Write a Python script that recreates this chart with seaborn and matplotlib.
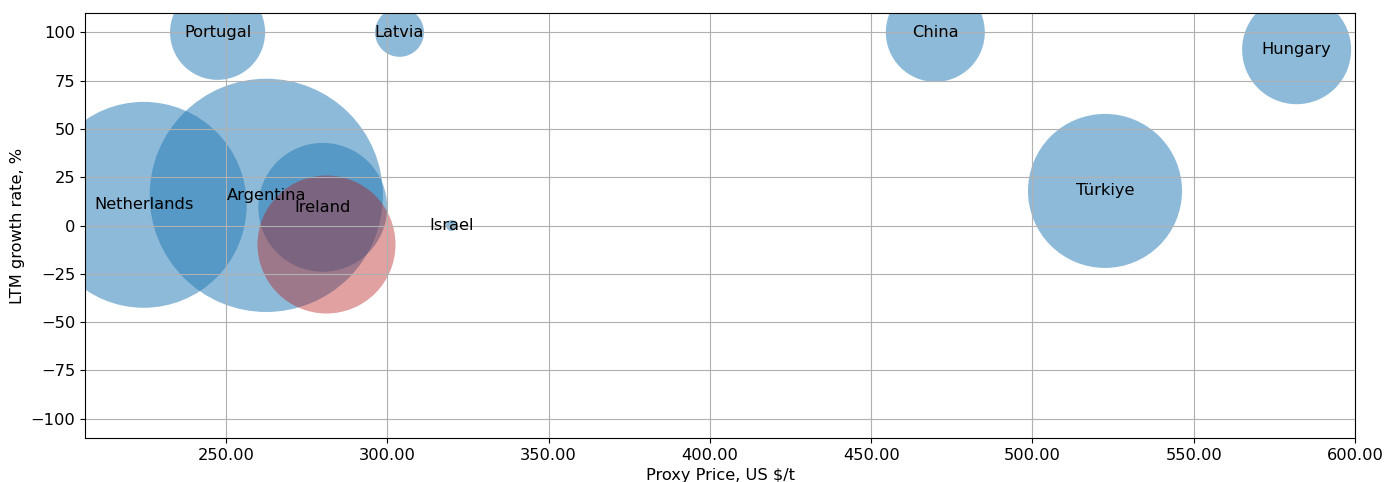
import matplotlib
matplotlib.use("Agg")
import matplotlib.pyplot as plt
import seaborn as sns
import pandas as pd
from matplotlib.ticker import FormatStrFormatter, MultipleLocator

# ---- data ----
countries = ["Netherlands", "Argentina", "Ireland", "Portugal", "Latvia",
             "Israel", "China", "Hungary", "Türkiye"]
price = [224.5, 262.5, 280.0, 247.4, 303.8, 319.9, 469.9, 581.9, 522.5]
growth = [10.7, 15.6, 9.4, 100.0, 100.0, 0.0, 100.0, 91.0, 17.9]
volume = [106.0, 136.0, 41.5, 22.6, 6.0, 0.3, 24.5, 29.7, 59.3]

# highlighted (unlabelled) market
hl_price = [281.1]
hl_growth = [-9.4]
hl_volume = [47.6]

plt.rcParams["font.family"] = ["DejaVu Sans"]
plt.rcParams["font.size"] = 11.7

df = pd.DataFrame({"country": countries, "price": price,
                   "growth": growth, "volume": volume})
hl = pd.DataFrame({"price": hl_price, "growth": hl_growth, "volume": hl_volume})

vmax = 150.0
smax = 207.4 * vmax

fig = plt.figure(figsize=(13.86, 4.82), dpi=100)
ax = fig.add_axes([85 / 1386, 1 - 438 / 482, (1355 - 85) / 1386, (438 - 13) / 482])

sns.scatterplot(data=df, x="price", y="growth", size="volume",
                sizes=(0, smax), size_norm=(0, vmax), legend=False,
                color="#1f77b4", alpha=0.5, linewidth=0, ax=ax)
sns.scatterplot(data=hl, x="price", y="growth", size="volume",
                sizes=(0, smax), size_norm=(0, vmax), legend=False,
                color="#b41616", alpha=0.4, linewidth=0, ax=ax)

for c, x, y in zip(countries, price, growth):
    ax.text(x, y, c, ha="center", va="center", fontsize=11.7, zorder=5)

ax.set_xlim(206.3, 600)
ax.set_ylim(-110, 110)
ax.xaxis.set_major_locator(MultipleLocator(50))
ax.yaxis.set_major_locator(MultipleLocator(25))
ax.xaxis.set_major_formatter(FormatStrFormatter("%.2f"))
ax.grid(True, color="#b0b0b0", linewidth=0.8)
ax.set_xlabel("Proxy Price, US $/t")
ax.set_ylabel("LTM growth rate, %")

fig.savefig("out.png", dpi=100)
